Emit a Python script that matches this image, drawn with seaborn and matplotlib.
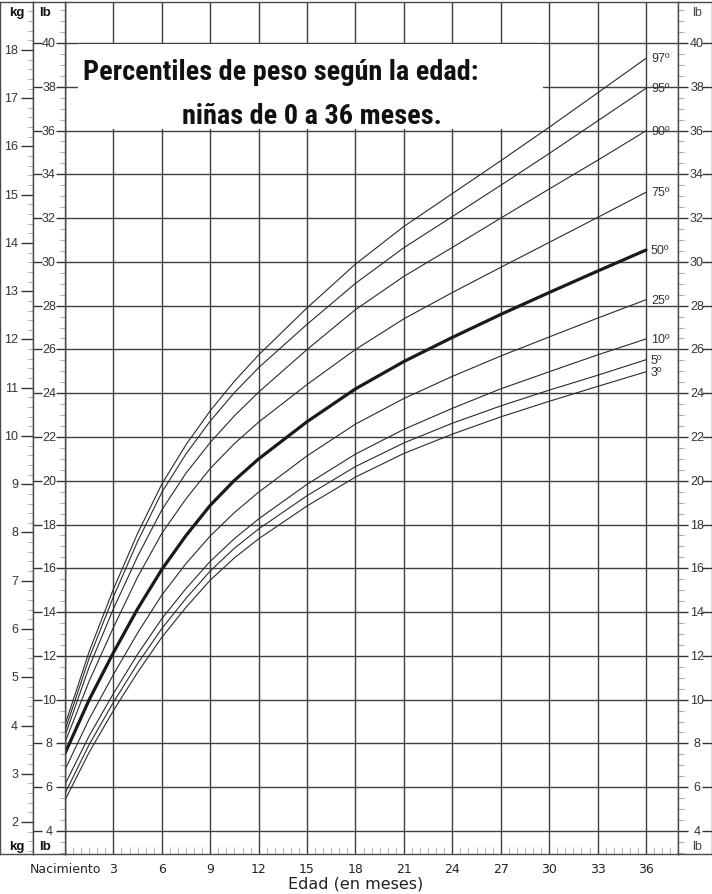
import matplotlib
matplotlib.use('Agg')
import matplotlib.pyplot as plt
import seaborn as sns
import numpy as np
from matplotlib import font_manager
from matplotlib.patches import Rectangle

# edad en meses y pesos (lb)
meses = [0, 1.5, 3, 4.5, 6, 7.5, 9, 10.5, 12, 15, 18, 21, 24, 27, 30, 33, 36]
p97 = [8.85, 12.2, 15.05, 17.6, 19.85, 21.65, 23.2, 24.55, 25.75, 27.9, 29.9, 31.62, 33.12, 34.62, 36.15, 37.72, 39.3]
p95 = [8.6, 11.9, 14.7, 17.23, 19.47, 21.23, 22.73, 24.03, 25.17, 27.15, 29.02, 30.65, 32.07, 33.5, 34.95, 36.44, 37.93]
p90 = [8.35, 11.5, 14.15, 16.55, 18.67, 20.35, 21.75, 22.97, 24.05, 26.0, 27.82, 29.34, 30.66, 32.0, 33.33, 34.64, 35.99]
p75 = [8.05, 10.85, 13.3, 15.6, 17.6, 19.18, 20.56, 21.7, 22.68, 24.4, 26.0, 27.4, 28.6, 29.75, 30.89, 32.03, 33.18]
p50 = [7.55, 10.0, 12.15, 14.15, 15.95, 17.5, 18.88, 20.02, 21.0, 22.7, 24.2, 25.45, 26.55, 27.6, 28.6, 29.58, 30.54]
p25 = [6.8, 9.12, 11.15, 13.05, 14.78, 16.22, 17.48, 18.55, 19.48, 21.14, 22.59, 23.76, 24.77, 25.7, 26.57, 27.43, 28.27]
p10 = [6.13, 8.35, 10.28, 12.08, 13.7, 15.08, 16.32, 17.36, 18.26, 19.84, 21.22, 22.35, 23.31, 24.2, 24.98, 25.75, 26.48]
p5 = [5.72, 7.95, 9.88, 11.65, 13.25, 14.63, 15.88, 16.92, 17.8, 19.32, 20.65, 21.73, 22.63, 23.42, 24.14, 24.82, 25.53]
p3 = [5.41, 7.6, 9.5, 11.25, 12.85, 14.22, 15.46, 16.48, 17.35, 18.85, 20.17, 21.25, 22.13, 22.92, 23.63, 24.31, 24.98]

etiquetas = ['97º', '95º', '90º', '75º', '50º', '25º', '10º', '5º', '3º']
curvas = [p97, p95, p90, p75, p50, p25, p10, p5, p3]

meses_ticks = list(range(0, 37, 3))
meses_labels = ['Nacimiento'] + [str(m) for m in meses_ticks[1:]]
lb_ticks = list(range(4, 41, 2))
kg_ticks = list(range(2, 19))

titulo1 = 'Percentiles de peso según la edad:'
titulo2 = 'niñas de 0 a 36 meses.'
xlabel = 'Edad (en meses)'

LB_POR_KG = 2.20462

sns.set_style('white')
plt.rcParams['font.family'] = ['Liberation Sans', 'DejaVu Sans']

W, H = 712, 895
def fx(px):
    return px / W
def fy(py):
    return 1 - py / H

YMIN, YMAX = 2.949, 41.873
fig = plt.figure(figsize=(W / 100, H / 100), dpi=100)
fb, fh = fy(855), (855 - 3) / H

gris = '#404040'
texto = '#333333'

def marco(a):
    for s in a.spines.values():
        s.set_visible(True)
        s.set_color('#4a4a4a')
        s.set_linewidth(1.0)

# grafico principal
ax = fig.add_axes([fx(65), fb, fx(678) - fx(65), fh])
for nombre, valores in zip(etiquetas, curvas):
    grueso = nombre == '50º'
    sns.lineplot(x=meses, y=valores, ax=ax, color='#1a1a1a' if grueso else '#2a2a2a',
                 linewidth=2.3 if grueso else 0.8, zorder=4)
    ax.text(36.31, valores[-1], nombre, ha='left', va='center', fontsize=9, color=texto)

ax.set_xlim(0, 37.983)
ax.set_ylim(YMIN, YMAX)
ax.set_xticks(meses_ticks)
ax.set_xticklabels(meses_labels, fontsize=9, color='#222222', family='DejaVu Sans')
ax.set_xticks(np.arange(0.5, 38, 0.5), minor=True)
ax.set_yticks(lb_ticks)
ax.set_yticklabels([])
ax.tick_params(axis='x', which='major', length=0, pad=6)
ax.tick_params(axis='x', which='minor', bottom=True, direction='in', length=5, color='#aaaaaa')
ax.tick_params(axis='y', length=0)
ax.grid(True, which='major', color=gris, linewidth=1.0)
ax.set_axisbelow(True)
ax.set_xlabel('')
ax.set_ylabel('')
marco(ax)

# recuadro blanco del titulo
ax.add_patch(Rectangle((0.81, 36.08), 29.62 - 0.81, 39.95 - 36.08,
                       facecolor='white', edgecolor='none', zorder=2))

# columna kg
ax_kg = fig.add_axes([0, fb, fx(33), fh])
ax_kg.set_xlim(0, 33)
ax_kg.set_ylim(YMIN, YMAX)
ax_kg.set_xticks([])
ax_kg.set_yticks([k * LB_POR_KG for k in kg_ticks])
ax_kg.set_yticks([k * LB_POR_KG for k in np.arange(1.4, 19.0, 0.2)], minor=True)
ax_kg.set_yticklabels([])
ax_kg.tick_params(axis='y', which='major', left=False, right=True, direction='in',
                  length=8.5, width=1.0, color='#333333')
ax_kg.tick_params(axis='y', which='minor', left=False, right=True, direction='in',
                  length=3.5, width=0.8, color='#b0b0b0')
for k in kg_ticks:
    ax_kg.text(18, k * LB_POR_KG, str(k), ha='right', va='center', fontsize=9, color=texto)
marco(ax_kg)

# columna lb izquierda
ax_lb = fig.add_axes([fx(33), fb, fx(65) - fx(33), fh])
ax_lb.set_xlim(33, 65)
ax_lb.set_ylim(YMIN, YMAX)
ax_lb.set_xticks([])
ax_lb.set_yticks(lb_ticks)
ax_lb.set_yticks(np.arange(3, 42, 0.5), minor=True)
ax_lb.set_yticklabels([])
ax_lb.tick_params(axis='y', which='major', left=True, right=True, direction='in',
                  length=6.5, width=1.0, color='#333333')
ax_lb.tick_params(axis='y', which='minor', left=False, right=True, direction='in',
                  length=3.5, width=0.8, color='#b0b0b0')
for v in lb_ticks:
    ax_lb.text(49, v, str(v), ha='center', va='center', fontsize=9, color=texto)
marco(ax_lb)

# columna lb derecha
ax_r = fig.add_axes([fx(678), fb, 1 - fx(678), fh])
ax_r.set_xlim(678, 712)
ax_r.set_ylim(YMIN, YMAX)
ax_r.set_xticks([])
ax_r.set_yticks(lb_ticks)
ax_r.set_yticks(np.arange(3, 42, 0.5), minor=True)
ax_r.set_yticklabels([])
ax_r.tick_params(axis='y', which='major', left=True, right=True, direction='in',
                 length=7, width=1.0, color='#333333')
ax_r.tick_params(axis='y', which='minor', left=True, right=False, direction='in',
                 length=4, width=0.8, color='#b0b0b0')
for v in lb_ticks:
    ax_r.text(697, v, str(v), ha='center', va='center', fontsize=9, color=texto)
marco(ax_r)

# cabeceras
for py in (13, 847):
    fig.text(fx(17), fy(py), 'kg', ha='center', va='center', fontsize=9.5, fontweight='bold', color='#111111')
    fig.text(fx(45), fy(py), 'lb', ha='center', va='center', fontsize=9.5, fontweight='bold', color='#111111')
    fig.text(fx(697), fy(py), 'lb', ha='center', va='center', fontsize=9, color='#444444')

fig.text(0.5, fy(884), xlabel, ha='center', va='center', fontsize=11.5, color='#222222',
         family='DejaVu Sans')

# titulo con fuente estrecha si existe
nombres = {f.name for f in font_manager.fontManager.ttflist}
fam, estiramiento = 'DejaVu Sans', 'condensed'
for cand in ['Liberation Sans Narrow', 'Roboto Condensed', 'Open Sans Condensed']:
    if cand in nombres:
        fam, estiramiento = cand, 'normal'
        break

t1 = fig.text(fx(281), fy(72), titulo1, ha='center', va='center', fontsize=20,
              fontweight='bold', family=fam, stretch=estiramiento, color='#111111', zorder=6)
t2 = fig.text(fx(312), fy(116), titulo2, ha='center', va='center', fontsize=20,
              fontweight='bold', family=fam, stretch=estiramiento, color='#111111', zorder=6)
fig.canvas.draw()
ancho = t1.get_window_extent().width
tam = min(26, 20 * 393 / ancho)
t1.set_fontsize(tam)
t2.set_fontsize(tam)

fig.savefig('out.png', dpi=100)
